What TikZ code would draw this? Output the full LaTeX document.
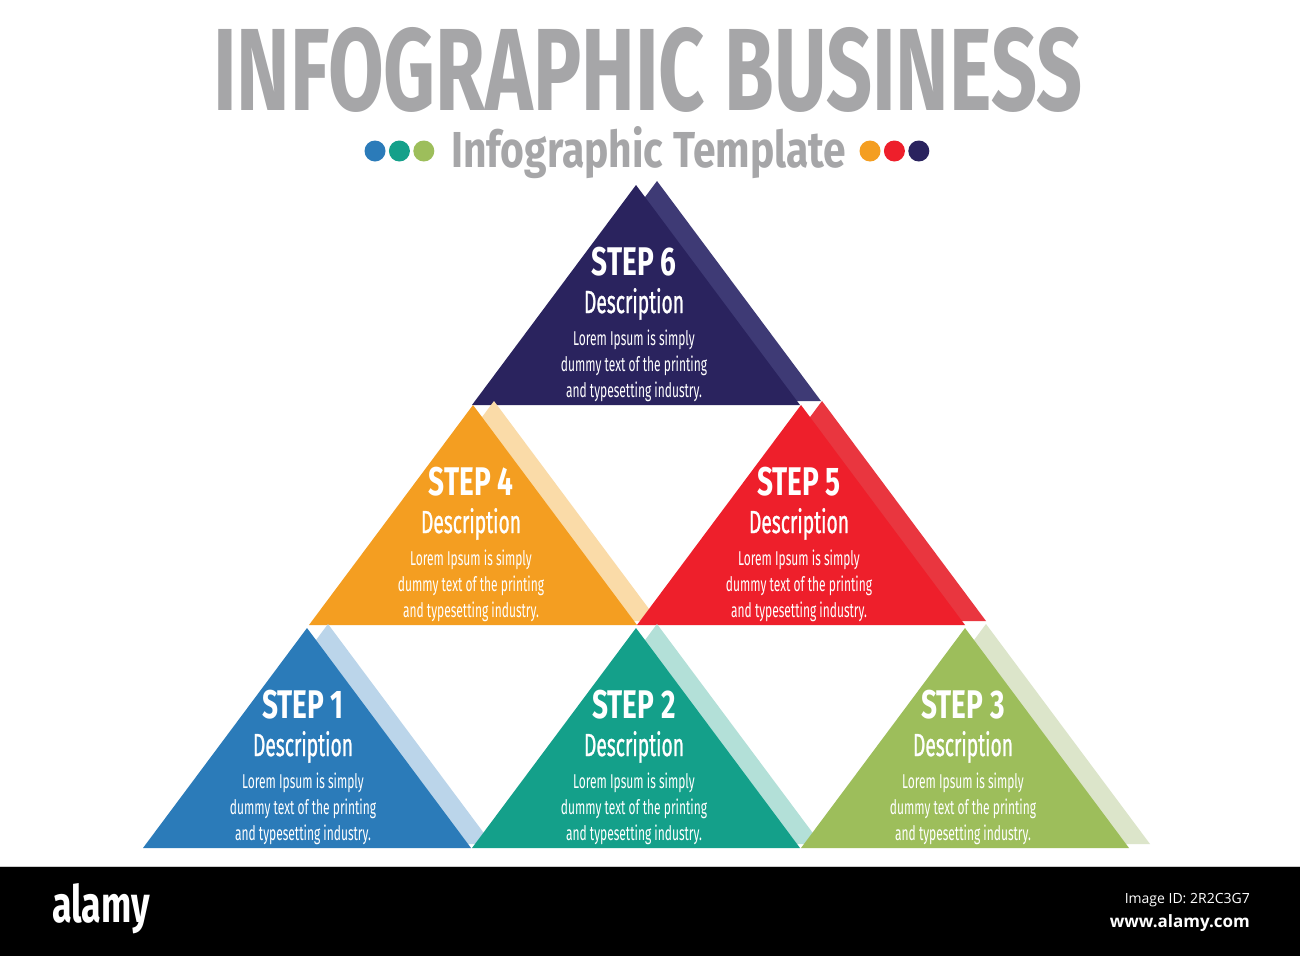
\documentclass[tikz,border=0pt]{standalone}
\usepackage{fontspec}
\usepackage{graphicx}
\setmainfont{Fira Sans}
\newfontfamily\narrowfont[FakeStretch=0.6]{Fira Sans}
\newfontfamily\mednarrowfont[FakeStretch=0.6, FakeBold=0.8]{Fira Sans}
\newfontfamily\stepfont[FakeStretch=0.7]{Fira Sans}
\newfontfamily\footfont{Open Sans}
\usetikzlibrary{positioning}
\definecolor{titlegray}{RGB}{166, 166, 168}
\definecolor{stepnavy}{RGB}{42, 35, 94}
\definecolor{navyshade}{RGB}{62, 58, 117}
\definecolor{steporange}{RGB}{244, 158, 33}
\definecolor{orangeshade}{RGB}{250, 219, 168}
\definecolor{stepred}{RGB}{238, 31, 43}
\definecolor{redshade}{RGB}{233, 54, 63}
\definecolor{stepblue}{RGB}{43, 123, 185}
\definecolor{blueshade}{RGB}{187, 213, 234}
\definecolor{stepteal}{RGB}{20, 160, 138}
\definecolor{tealshade}{RGB}{179, 224, 216}
\definecolor{stepgreen}{RGB}{157, 190, 91}
\definecolor{greenshade}{RGB}{220, 229, 202}

\begin{document}
\begin{tikzpicture}[
    x=1pt, y=-1pt,
    node distance=3pt,
    heading/.style={text=titlegray, inner sep=0pt, anchor=base west},
    dot/.style={circle, inner sep=0pt, minimum size=21pt},
    steptitle/.style={font=\stepfont\bfseries\fontsize{40}{40}\selectfont, text=white, inner sep=0pt, anchor=base},
    desc/.style={font=\mednarrowfont\fontsize{32}{32}\selectfont, text=white, inner sep=0pt},
    lorem/.style={font=\narrowfont\fontsize{20}{26}\selectfont, text=white, inner sep=0pt, align=center},
    footer/.style={text=white, inner sep=0pt, anchor=base east}
]

% Background
\fill[white] (0,0) rectangle (1300,956);
\useasboundingbox (0,0) rectangle (1300,956);

% Heading
\node[heading] (title) at (213,110) {\resizebox{869pt}{83pt}{\bfseries INFOGRAPHIC BUSINESS}};
\node[heading] (subtitle) at (451,167) {\resizebox{395pt}{41pt}{\bfseries Infographic Template}};

% Dots
\node[dot, fill=stepblue] (dotblue) at (375,151) {};
\node[dot, fill=stepteal, right=of dotblue] (dotteal) {};
\node[dot, fill=stepgreen, right=of dotteal] (dotgreen) {};
\node[dot, fill=steporange] (dotorange) at (870,151) {};
\node[dot, fill=stepred, right=of dotorange] (dotred) {};
\node[dot, fill=stepnavy, right=of dotred] (dotnavy) {};

% Step 6
\fill[navyshade, shift={(21,-4)}] (472,405) -- (636,185) -- (800,405) -- cycle;
\fill[stepnavy] (472,405) -- (636,185) -- (800,405) -- cycle;
\node[steptitle] (step6) at (634,275) {STEP 6};
\node[desc, below=12pt of step6] (desc6) {Description};
\node[lorem, below=10pt of desc6] (text6) {Lorem Ipsum is simply\\dummy text of the printing\\and typesetting industry.};

% Step 4
\fill[orangeshade, shift={(21,-4)}] (309,625) -- (473,405) -- (637,625) -- cycle;
\fill[steporange] (309,625) -- (473,405) -- (637,625) -- cycle;
\node[steptitle] (step4) at (471,495) {STEP 4};
\node[desc, below=12pt of step4] (desc4) {Description};
\node[lorem, below=10pt of desc4] (text4) {Lorem Ipsum is simply\\dummy text of the printing\\and typesetting industry.};

% Step 5
\fill[redshade, shift={(21,-4)}] (637,625) -- (801,405) -- (965,625) -- cycle;
\fill[stepred] (637,625) -- (801,405) -- (965,625) -- cycle;
\node[steptitle] (step5) at (799,495) {STEP 5};
\node[desc, below=12pt of step5] (desc5) {Description};
\node[lorem, below=10pt of desc5] (text5) {Lorem Ipsum is simply\\dummy text of the printing\\and typesetting industry.};

% Step 1
\fill[blueshade, shift={(21,-4)}] (143,848) -- (307,628) -- (471,848) -- cycle;
\fill[stepblue] (143,848) -- (307,628) -- (471,848) -- cycle;
\node[steptitle] (step1) at (303,718) {STEP 1};
\node[desc, below=12pt of step1] (desc1) {Description};
\node[lorem, below=10pt of desc1] (text1) {Lorem Ipsum is simply\\dummy text of the printing\\and typesetting industry.};

% Step 2
\fill[tealshade, shift={(21,-4)}] (472,848) -- (636,628) -- (800,848) -- cycle;
\fill[stepteal] (472,848) -- (636,628) -- (800,848) -- cycle;
\node[steptitle] (step2) at (634,718) {STEP 2};
\node[desc, below=12pt of step2] (desc2) {Description};
\node[lorem, below=10pt of desc2] (text2) {Lorem Ipsum is simply\\dummy text of the printing\\and typesetting industry.};

% Step 3
\fill[greenshade, shift={(21,-4)}] (801,848) -- (965,628) -- (1129,848) -- cycle;
\fill[stepgreen] (801,848) -- (965,628) -- (1129,848) -- cycle;
\node[steptitle] (step3) at (963,718) {STEP 3};
\node[desc, below=12pt of step3] (desc3) {Description};
\node[lorem, below=10pt of desc3] (text3) {Lorem Ipsum is simply\\dummy text of the printing\\and typesetting industry.};

% Footer bar
\fill[black] (0,867) rectangle (1300,956);
\draw[gray!40] (0,866) -- (1300,866);
\node[text=white, inner sep=0pt, anchor=base west] (logo) at (52,922) {\resizebox{98pt}{39pt}{\stepfont\bfseries alamy}};
\node[footer, font=\footfont\fontsize{14}{14}\selectfont] (imageid) at (1250,903) {Image ID: 2R2C3G7};
\node[footer, font=\footfont\bfseries\fontsize{17}{17}\selectfont] (website) at (1250,927) {www.alamy.com};

\end{tikzpicture}
\end{document}
